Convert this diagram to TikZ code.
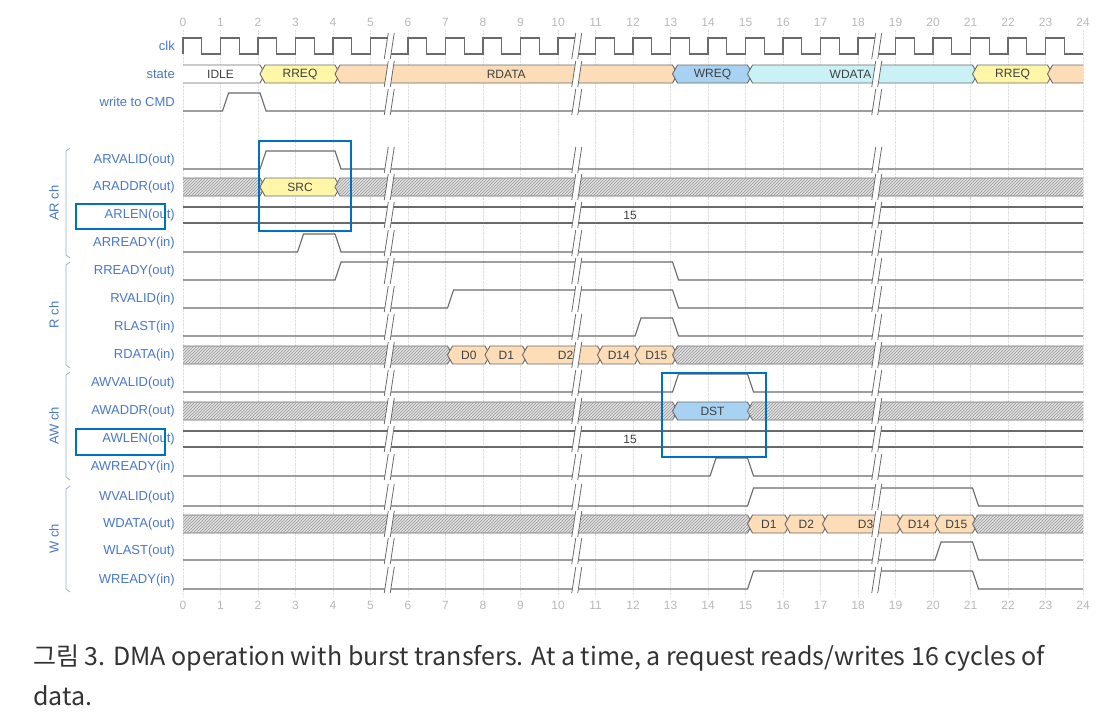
\documentclass[tikz,border=0pt]{standalone}
\usepackage{fontspec}
\setmainfont{Liberation Sans}
\newfontfamily\kr{Noto Sans CJK KR}
\usetikzlibrary{patterns}
\definecolor{lblue}{HTML}{4A78C8}
\definecolor{boxblue}{HTML}{0070C0}
\definecolor{sig}{HTML}{6A6A6A}
\definecolor{cyel}{HTML}{FFF6A8}
\definecolor{cora}{HTML}{FCDDB8}
\definecolor{cblu}{HTML}{A8D2F2}
\definecolor{ccya}{HTML}{C9F1F6}
\definecolor{hatch}{HTML}{9A9A9A}
\tikzset{
 sigl/.style={draw=sig,line width=1.1pt},
 lab/.style={anchor=east,text=lblue,font=\fontsize{13}{15}\selectfont,inner sep=0pt},
 num/.style={text=gray!55,font=\fontsize{12}{14}\selectfont,inner sep=0pt},
 hl/.style={draw=boxblue,line width=2.6pt},
 segtxt/.style={font=\fontsize{12}{14}\selectfont,text=black!75,inner sep=0pt},
 capt/.style={anchor=west,inner sep=0pt,text=black!80,font=\kr\fontsize{25}{29}\selectfont},
}
\newcommand{\X}[1]{183+37.5*(#1)}
\newcommand{\pulse}[3]{\draw[sigl] (183,#1+9) -- ({\X{#2}+2},#1+9) -- ({\X{#2}+8},#1-9) -- ({\X{#3}+2},#1-9) -- ({\X{#3}+8},#1+9) -- (1083,#1+9);}
\newcommand{\seg}[5]{\draw[draw=sig,line width=0.9pt,fill=#4] ({\X{#1}+2},#3) -- ({\X{#1}+7},#3-9) -- ({\X{#2}+2},#3-9) -- ({\X{#2}+7},#3) -- ({\X{#2}+2},#3+9) -- ({\X{#1}+7},#3+9) -- cycle;
 \node[segtxt] at ({\X{(#1+#2)/2}+4.5},#3) {#5};}
\newcommand{\hseg}[3]{\draw[draw=sig,line width=0.9pt,fill=gray!25,postaction={pattern=north east lines,pattern color=hatch}] ({\X{#1}+2},#3) -- ({\X{#1}+7},#3-9) -- ({\X{#2}+2},#3-9) -- ({\X{#2}+7},#3) -- ({\X{#2}+2},#3+9) -- ({\X{#1}+7},#3+9) -- cycle;}
\newcommand{\brk}[2]{\fill[white] ({\X{#1}-5},#2+13) -- ({\X{#1}+1},#2+13) -- ({\X{#1}+5},#2-13) -- ({\X{#1}-1},#2-13) -- cycle;
 \draw[sig,line width=0.8pt] ({\X{#1}-5},#2+13) -- ({\X{#1}-1},#2-13) ({\X{#1}+1},#2+13) -- ({\X{#1}+5},#2-13);}
\begin{document}
\begin{tikzpicture}[x=1pt,y=-1pt]
\useasboundingbox[fill=white] (0,0) rectangle (1115,717);
\foreach \k in {0,...,24}{
 \draw[gray!25,densely dotted] ({\X{\k}},30) -- ({\X{\k}},596);
 \node[num] (tn\k) at ({\X{\k}},22) {\k};
 \node[num] (bn\k) at ({\X{\k}},605) {\k};
}
\foreach \n/\y/\t in {c/46/clk,s/74/state,w/102/write to CMD,a1/160/ARVALID(out),a2/187/ARADDR(out),a3/215/ARLEN(out),a4/243/ARREADY(in),r1/271/RREADY(out),r2/299/RVALID(in),r3/327/RLAST(in),r4/355/RDATA(in),b1/383/AWVALID(out),b2/411/AWADDR(out),b3/439/AWLEN(out),b4/467/AWREADY(in),d1/497/WVALID(out),d2/524/WDATA(out),d3/551/WLAST(out),d4/580/WREADY(in)}
 \node[lab] (L\n) at (175,\y) {\t};
\foreach \n/\a/\b/\t in {ar/148/258/AR ch,rr/262/368/R ch,aw/372/480/AW ch,ww/486/592/W ch}{
 \draw[lblue!60,line width=0.8pt] (70,\a) -- (66,\a+3) -- (66,\b-3) -- (70,\b);
 \node[rotate=90,text=lblue,font=\fontsize{13}{15}\selectfont] (G\n) at (54,{(\a+\b)/2}) {\t};
}
\draw[sigl] (183,54) \foreach \k in {0,...,23}{ -- ({\X{\k}},54) -- ({\X{\k}},38) -- ({\X{\k+.5}},38) -- ({\X{\k+.5}},54)} -- (1083,54);
\begin{scope}
\clip (183,0) rectangle (1083,700);
\seg{-0.5}{2}{74}{white}{}
\node[segtxt] at ({\X{1}},74) {IDLE};
\seg{2}{4}{74}{cyel}{RREQ}
\seg{4}{13}{74}{cora}{RDATA}
\seg{13}{15}{74}{cblu}{WREQ}
\seg{15}{21}{74}{ccya}{}
\node[segtxt] at ({\X{17.8}},74) {WDATA};
\seg{21}{23}{74}{cyel}{RREQ}
\seg{23}{25}{74}{cora}{}
\hseg{-0.5}{2}{187}\seg{2}{4}{187}{cyel}{SRC}\hseg{4}{25}{187}
\hseg{-0.5}{7}{355}
\seg{7}{8}{355}{cora}{D0}\seg{8}{9}{355}{cora}{D1}\seg{9}{11}{355}{cora}{}
\node[segtxt] at ({\X{10.2}},355) {D2};
\seg{11}{12}{355}{cora}{D14}\seg{12}{13}{355}{cora}{D15}\hseg{13}{25}{355}
\hseg{-0.5}{13}{411}\seg{13}{15}{411}{cblu}{DST}\hseg{15}{25}{411}
\hseg{-0.5}{15}{524}
\seg{15}{16}{524}{cora}{D1}\seg{16}{17}{524}{cora}{D2}\seg{17}{19}{524}{cora}{}
\node[segtxt] at ({\X{18.2}},524) {D3};
\seg{19}{20}{524}{cora}{D14}\seg{20}{21}{524}{cora}{D15}\hseg{21}{25}{524}
\end{scope}
\pulse{102}{1}{2}
\pulse{160}{2}{4}
\draw[sigl] (183,207) -- (1083,207) (183,223) -- (1083,223);
\node[segtxt] (len1) at (630,215) {15};
\pulse{243}{3}{4}
\pulse{271}{4}{13}
\pulse{299}{7}{13}
\pulse{327}{12}{13}
\pulse{383}{13}{15}
\draw[sigl] (183,431) -- (1083,431) (183,447) -- (1083,447);
\node[segtxt] (len2) at (630,439) {15};
\pulse{467}{14}{15}
\pulse{497}{15}{21}
\pulse{551}{20}{21}
\pulse{580}{15}{21}
\foreach \t in {5.5,10.5,18.5}
 \foreach \y in {46,74,102,160,187,215,243,271,299,327,355,383,411,439,467,497,524,551,580}
  {\brk{\t}{\y}}
\draw[hl] (259,141) rectangle (351,231);
\draw[hl] (76,204) rectangle (165,229);
\draw[hl] (662,373) rectangle (766,457);
\draw[hl] (76,429) rectangle (165,455);
\node[capt] (cap1) at (33,658) {그림 3. DMA operation with burst transfers. At a time, a request reads/writes 16 cycles of};
\node[capt] (cap2) at (33,696) {data.};
\end{tikzpicture}
\end{document}
